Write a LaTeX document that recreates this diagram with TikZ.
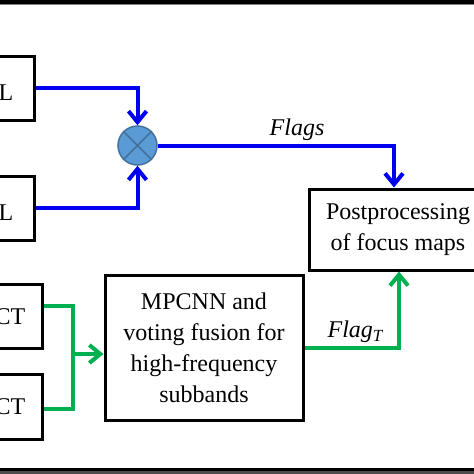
\documentclass[tikz,border=0pt]{standalone}
\usepackage{fontspec}
\setmainfont{Liberation Serif}
\usetikzlibrary{arrows.meta}
\definecolor{flowblue}{RGB}{0,0,240}
\definecolor{flowgreen}{RGB}{0,176,80}
\definecolor{circfill}{RGB}{91,155,213}
\definecolor{circdraw}{RGB}{65,113,156}
\begin{document}
\begin{tikzpicture}[x=1pt,y=-1pt,
  box/.style={draw=black, line width=3pt, rectangle, inner sep=0pt, align=center,
    font=\fontsize{24}{31}\selectfont},
  lbl/.style={inner sep=0pt, font=\fontsize{24}{31}\selectfont},
  flowline/.style={line width=4pt},
  bluearr/.style={flowline, draw=flowblue, -{Straight Barb[length=11pt,width=18pt]}},
  greenline/.style={flowline, draw=flowgreen},
  greenarr/.style={greenline, -{Straight Barb[length=11pt,width=18pt]}}
]
\useasboundingbox (0,0) rectangle (474,474);
\clip (0,0) rectangle (474,474);
\fill[white] (0,0) rectangle (474,474);
% frame bands
\fill[black] (0,0) rectangle (474,4);
\fill[gray] (0,4) rectangle (474,5);
\fill[black] (0,468) rectangle (474,470.5);
\fill[black!70] (0,470.5) rectangle (474,474);
% boxes
\node[box, minimum width=60pt, minimum height=64pt] (L1) at (4,88) {};
\node[lbl] (tL1) at (6,93) {L};
\node[box, minimum width=60pt, minimum height=64pt] (L2) at (4,208) {};
\node[lbl] (tL2) at (6,213) {L};
\node[box, minimum width=68pt, minimum height=64pt] (CT1) at (8,316) {};
\node[lbl] (tCT1) at (10,317) {CT};
\node[box, minimum width=68pt, minimum height=65pt] (CT2) at (8,406.5) {};
\node[lbl] (tCT2) at (10,407) {CT};
\node[box, minimum width=198pt, minimum height=145pt] (mpcnn) at (204,347.5)
  {MPCNN and\\voting fusion for\\high-frequency\\subbands};
\node[box, minimum width=178pt, minimum height=81pt] (post) at (398,229.5)
  {Postprocessing\\of focus maps};
% multiplier
\node[draw=circdraw, fill=circfill, circle, minimum size=39pt, line width=1.5pt, inner sep=0pt] (mult) at (137.5,145.5) {};
\draw[circdraw, line width=1.5pt] (mult.north west) -- (mult.south east);
\draw[circdraw, line width=1.5pt] (mult.north east) -- (mult.south west);
% blue connectors
\draw[bluearr] (L1.east) -| (mult.north);
\draw[bluearr] (L2.east) -| (mult.south);
\draw[bluearr] (mult.east) -| ([xshift=-4pt]post.north);
\node[lbl, font=\fontsize{24}{31}\selectfont\itshape] (flags) at (297,130) {Flags};
% green connectors
\coordinate (j) at (72.5,354);
\draw[greenline] ([yshift=10pt]CT1.east) -| (j) |- ([yshift=-2.5pt]CT2.east);
\draw[greenarr] (j) -- (mpcnn.west |- j);
\draw[greenarr] (mpcnn.east) -| ([xshift=1pt]post.south);
\node[lbl, font=\fontsize{24}{31}\selectfont\itshape] (flagt) at (355,332) {Flag\raisebox{-0.3ex}{\fontsize{17}{20}\selectfont T}};
\end{tikzpicture}
\end{document}
